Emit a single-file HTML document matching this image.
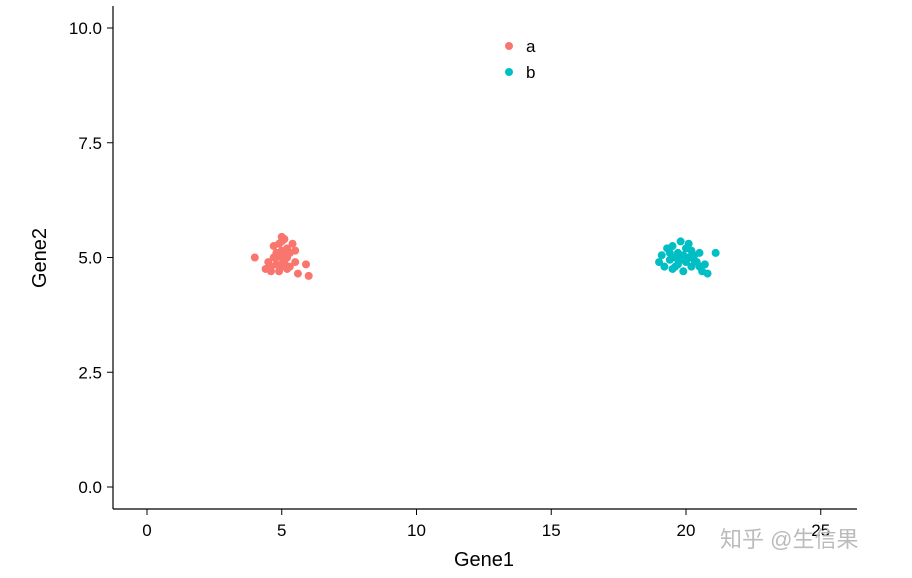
<!DOCTYPE html>
<html><head><meta charset="utf-8"><style>
body{margin:0;background:#fff;}
svg text{font-family:"Liberation Sans",Arial,sans-serif;}
</style></head><body>
<svg width="912" height="573" xmlns="http://www.w3.org/2000/svg">
<g id="axes"></g><g id="pts"></g>
<g>
<circle cx="509" cy="46" r="4" fill="#F8766D"/>
<text x="526" y="52" font-size="17">a</text>
<circle cx="509" cy="72" r="4" fill="#00BFC4"/>
<text x="526" y="78" font-size="17">b</text>
</g>
<text x="484" y="566" font-size="20" text-anchor="middle">Gene1</text>
<text transform="translate(46,258) rotate(-90)" font-size="20" text-anchor="middle">Gene2</text>
<text x="720" y="547" font-size="22" fill="#bbb" font-family="Noto Sans CJK SC,sans-serif">知乎 @生信果</text>
</svg>
<script>
const xTicks=[0,5,10,15,20,25];
const yTicks=[0,2.5,5,7.5,10];
const yTickLabels=["0.0","2.5","5.0","7.5","10.0"];
const aX=[4.0,4.4,4.5,4.6,4.7,4.7,4.8,4.8,4.9,4.9,5.0,5.0,5.0,5.0,5.1,5.1,5.1,5.2,5.2,5.3,5.4,5.5,5.5,5.6,5.9,6.0,4.6,4.8,5.0,5.2,5.3,4.9,5.1,5.0];
const aY=[5.0,4.75,4.9,4.7,5.0,5.25,4.85,5.1,5.3,4.7,5.0,5.45,4.8,5.15,5.4,4.9,5.05,5.2,4.75,5.1,5.3,4.9,5.15,4.65,4.85,4.6,4.8,5.0,5.35,5.0,4.8,5.05,4.95,4.85];
const bX=[19.0,19.1,19.2,19.3,19.4,19.5,19.5,19.6,19.7,19.7,19.8,19.8,19.9,19.9,20.0,20.0,20.1,20.1,20.2,20.3,20.4,20.5,20.6,20.7,20.8,21.1,19.4,19.6,20.0,20.2,19.8,20.3,20.5];
const bY=[4.9,5.05,4.8,5.2,4.95,5.25,4.75,5.0,5.1,4.85,5.35,4.95,5.05,4.7,5.2,4.9,5.0,5.3,4.8,5.05,4.9,5.1,4.7,4.85,4.65,5.1,5.1,4.8,5.0,5.15,5.0,4.95,4.8];
const X=v=>147+v*26.95, Y=v=>487-v*45.9;
const NS="http://www.w3.org/2000/svg";
const ax=document.getElementById('axes'), pg=document.getElementById('pts');
function mk(tag,attrs,parent,txt){const e=document.createElementNS(NS,tag);for(const k in attrs)e.setAttribute(k,attrs[k]);if(txt!==undefined)e.textContent=txt;parent.appendChild(e);return e;}
let l=mk('line',{x1:113,y1:6,x2:113,y2:509,stroke:'#000','stroke-width':1.2},ax);


l=mk('line',{x1:113,y1:509,x2:857,y2:509,stroke:'#000','stroke-width':1.2},ax);


xTicks.forEach(t=>{const x=X(t);mk('line',{x1:x,y1:509,x2:x,y2:515,stroke:'#000'},ax);
const tx=mk('text',{x:x,y:536,'font-size':17,'text-anchor':'middle'},ax,String(t));

});
yTicks.forEach((t,i)=>{const y=Y(t);mk('line',{x1:107,y1:y,x2:113,y2:y,stroke:'#000'},ax);
const tx=mk('text',{x:102,y:y+6,'font-size':17,'text-anchor':'end'},ax,yTickLabels[i]);

});
aX.forEach((v,i)=>{const c=mk('circle',{cx:X(v),cy:Y(aY[i]),r:4,fill:'#F8766D'},pg);

});
bX.forEach((v,i)=>{const c=mk('circle',{cx:X(v),cy:Y(bY[i]),r:4,fill:'#00BFC4'},pg);

});
</script>
</body></html>
